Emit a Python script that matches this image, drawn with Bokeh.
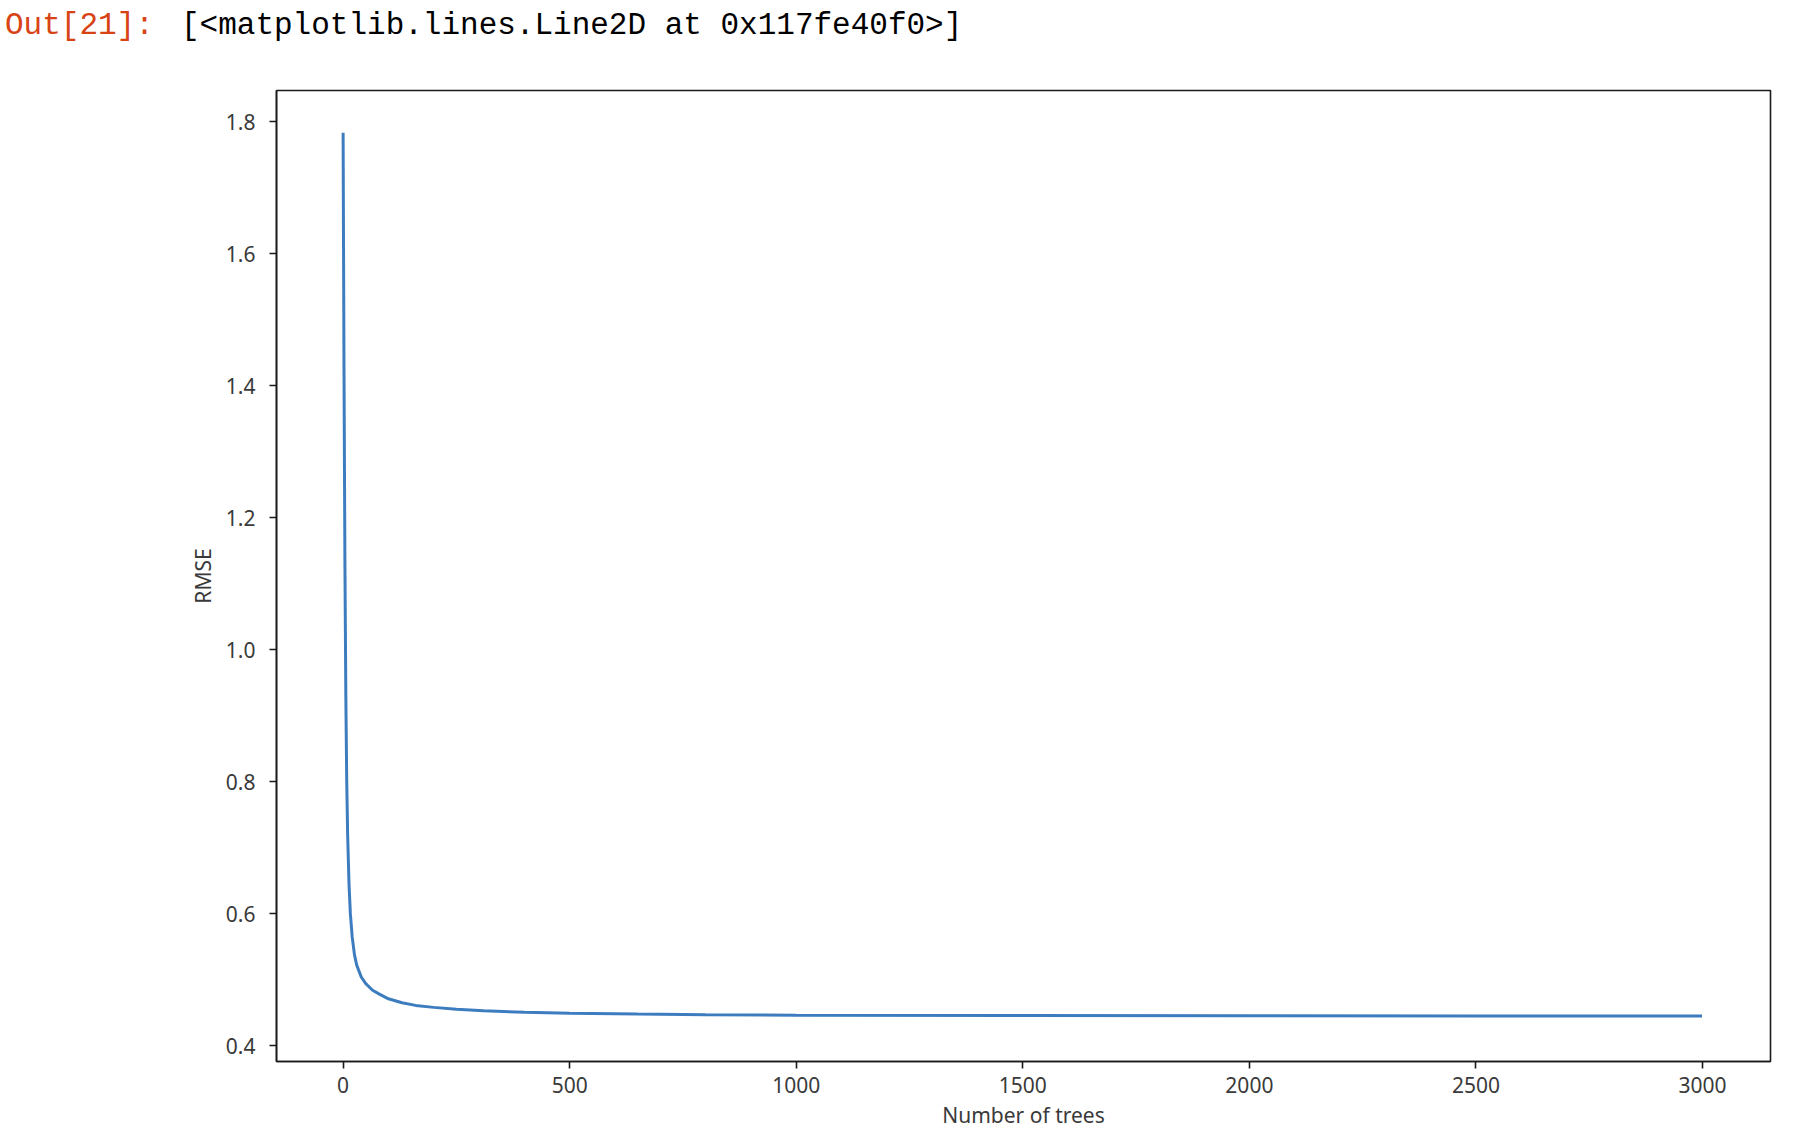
from bokeh.plotting import figure
from bokeh.models import Div, FixedTicker, Range1d, PrintfTickFormatter
from bokeh.layouts import column
from bokeh.embed import file_html
from bokeh.resources import INLINE

# values (RMSE against number of trees)
trees = [0, 2, 4, 6, 8, 10, 13, 16, 20, 25, 30, 40, 50, 65, 80, 100, 130,
         160, 200, 250, 310, 400, 500, 650, 800, 1000, 1500, 2000, 2500, 2999]
rmse = [1.783, 1.42, 1.13, 0.93, 0.80, 0.72, 0.645, 0.60, 0.565, 0.538,
        0.522, 0.504, 0.494, 0.484, 0.478, 0.471, 0.465, 0.461, 0.458,
        0.455, 0.453, 0.4505, 0.449, 0.4478, 0.447, 0.4462, 0.4455,
        0.4452, 0.4451, 0.445]

x_ticks = [0, 500, 1000, 1500, 2000, 2500, 3000]
y_ticks = [0.4, 0.6, 0.8, 1.0, 1.2, 1.4, 1.6, 1.8]

prompt_text = "Out[21]:"
repr_text = "[&lt;matplotlib.lines.Line2D at 0x117fe40f0&gt;]"

# notebook output prompt above the chart
header = Div(
    text=('<span style="display:inline-block;width:176px;color:#D84315">'
          + prompt_text + '</span><span style="color:#000">' + repr_text + '</span>'),
    width=1780, height=41,
    styles={"font-family": "Liberation Mono", "font-size": "31px",
            "white-space": "pre", "line-height": "41px"})

p = figure(frame_width=1494, frame_height=971,
           min_border_left=276, min_border_right=12,
           min_border_top=39, min_border_bottom=70,
           x_range=Range1d(-147, 3150), y_range=Range1d(0.376, 1.847),
           x_axis_label="Number of trees", y_axis_label="RMSE",
           output_backend="svg", toolbar_location=None)

p.line(trees, rmse, line_color="#3d7dbf", line_width=3)

dark = "#1a1a1a"
for ax in (p.xaxis[0], p.yaxis[0]):
    ax.axis_line_color = dark
    ax.axis_line_width = 1.6
    ax.major_tick_line_color = dark
    ax.major_tick_line_width = 1.6
    ax.major_tick_out = 7
    ax.major_tick_in = 0
    ax.minor_tick_line_color = None
    ax.major_label_text_font = "Noto Sans"
    ax.major_label_text_font_size = "21px"
    ax.major_label_text_color = "#3a3a3a"
    ax.axis_label_text_font = "Noto Sans"
    ax.axis_label_text_font_size = "21px"
    ax.axis_label_text_font_style = "normal"
    ax.axis_label_text_color = "#3a3a3a"

p.xaxis.ticker = FixedTicker(ticks=x_ticks)
p.yaxis.ticker = FixedTicker(ticks=y_ticks)
p.yaxis.formatter = PrintfTickFormatter(format="%.1f")
p.xaxis.major_label_standoff = 8
p.yaxis.major_label_standoff = 14
p.xaxis.axis_label_standoff = 5
p.yaxis.axis_label_standoff = 6

p.grid.visible = False
p.outline_line_color = dark
p.outline_line_width = 1.6

layout = column(header, p, spacing=0)

open("out.html", "w").write(file_html(layout, INLINE))
